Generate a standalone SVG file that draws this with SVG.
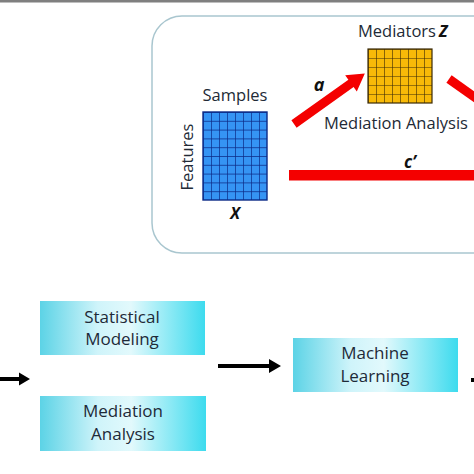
<svg xmlns="http://www.w3.org/2000/svg" width="474" height="474" viewBox="0 0 474 474">
<defs>
<linearGradient id="cyan" x1="0" y1="0" x2="1" y2="0">
<stop offset="0" stop-color="#5cd3e6"/>
<stop offset="0.35" stop-color="#cff4fa"/>
<stop offset="0.55" stop-color="#e2f9fc"/>
<stop offset="1" stop-color="#3ddbee"/>
</linearGradient>
<pattern id="bgrid" x="203" y="112" width="8" height="8.8" patternUnits="userSpaceOnUse">
<rect width="8" height="8.8" fill="#3594f4"/>
<path d="M0 0H8M0 0V8.8" stroke="#0b2a86" stroke-width="1.4" fill="none"/>
</pattern>
<pattern id="ogrid" x="368" y="49" width="8" height="9" patternUnits="userSpaceOnUse">
<rect width="8" height="9" fill="#f8ba08"/>
<path d="M0 0H8M0 0V9" stroke="#3b2a06" stroke-width="1.2" fill="none"/>
</pattern>
<style>
.t{font-family:"Open Sans","Noto Sans","DejaVu Sans",sans-serif;fill:#222a36}
.top{font-size:16.5px}
.bot{font-size:17px;text-anchor:middle;fill:#1e2a38}
.bi{font-family:"Open Sans","Noto Sans",sans-serif;font-weight:bold;font-style:italic;fill:#111}
.red{fill:#f40000}
.box{fill:url(#cyan)}
.blk{fill:#000}
</style>
</defs>
<rect width="474" height="474" fill="#fff"/>
<rect x="0" y="0" width="474" height="2.5" fill="#7f7f7f"/>
<g id="panel">
<rect x="152" y="16" width="370" height="237" rx="30" ry="30" fill="#fff" stroke="#a9c6cf" stroke-width="1.5"/>
</g>
<g id="samples">
<rect x="203" y="112" width="64" height="88" fill="url(#bgrid)" stroke="#0b2a86" stroke-width="1.4"/>
<text class="t top" x="235" y="101" text-anchor="middle">Samples</text>
<text class="t top" transform="translate(193,157) rotate(-90)" text-anchor="middle">Features</text>
<text class="bi" x="235" y="219" font-size="16" text-anchor="middle">X</text>
</g>
<g id="mediators">
<rect x="368" y="49" width="64" height="54" fill="url(#ogrid)" stroke="#3b2a06" stroke-width="1.2"/>
<text class="t top" x="358" y="37">Mediators<tspan class="bi" dx="3" font-size="16">Z</tspan></text>
<text class="t top" x="324" y="129" fill="#1f1f3a">Mediation Analysis</text>
</g>
<g id="connectors">
<g transform="translate(294,124) rotate(-35.5)">
<polygon class="red" points="0,-4.5 70,-4.5 70,-10 87,0 70,10 70,4.5 0,4.5"/>
</g>
<text class="bi" x="319" y="91" font-size="18" text-anchor="middle">a</text>
<g transform="translate(449,79) rotate(35.5)">
<polygon class="red" points="0,-4.5 60,-4.5 60,4.5 0,4.5"/>
</g>
<rect class="red" x="289" y="170" width="190" height="10.5"/>
<text class="bi" x="410" y="168" font-size="17" text-anchor="middle">c’</text>
<polygon class="blk" points="0,377 19,377 19,372.5 30,379 19,385.5 19,381 0,381"/>
<polygon class="blk" points="218,364 269,364 269,359 281,366 269,373 269,368 218,368"/>
<rect class="blk" x="471" y="378" width="3" height="4"/>
</g>
<g id="statistical-modeling">
<rect class="box" x="40" y="301" width="165" height="54"/>
<text class="t bot" x="122" y="323">Statistical</text>
<text class="t bot" x="122" y="345">Modeling</text>
</g>
<g id="mediation-analysis">
<rect class="box" x="40" y="396" width="166" height="55"/>
<text class="t bot" x="123" y="417">Mediation</text>
<text class="t bot" x="123" y="440">Analysis</text>
</g>
<g id="machine-learning">
<rect class="box" x="293" y="338" width="165" height="54"/>
<text class="t bot" x="375" y="359">Machine</text>
<text class="t bot" x="375" y="382">Learning</text>
</g>
</svg>
